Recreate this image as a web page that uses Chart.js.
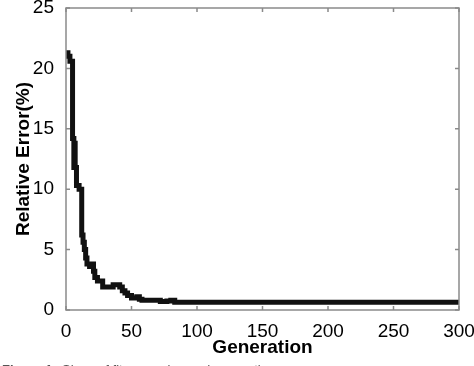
<!DOCTYPE html>
<html lang="en">
<head>
    <meta charset="UTF-8">
    <title>Relative Error vs Generation</title>
    <script src="https://cdn.jsdelivr.net/npm/chart.js"></script>
    <style>
        html, body { margin: 0; padding: 0; background: #fff; }
        .wrapper { width: 474px; height: 366px; position: relative; }
    </style>
</head>
<body>
    <div class="wrapper">
        <canvas id="errorChart"></canvas>
    </div>

    <script>
        // step points (value holds until the next generation)
        const generations = [0, 1.5, 3, 5, 6, 6.5, 7, 8, 10, 12, 13, 14, 15, 16, 18, 20, 21, 22, 24, 28, 36, 41, 43, 45, 47, 50, 54, 56, 58, 72, 77, 80, 83, 300];
        const relErrors   = [21.3, 21.0, 20.6, 14.2, 11.8, 13.8, 11.8, 10.3, 10.0, 6.2, 5.6, 5.0, 4.3, 3.8, 3.6, 3.8, 3.2, 2.7, 2.4, 1.9, 2.1, 1.9, 1.6, 1.4, 1.2, 1.0, 1.1, 0.9, 0.8, 0.7, 0.75, 0.8, 0.65, 0.65];
        const xTicks = [0, 50, 100, 150, 200, 250, 300];
        const yTicks = [0, 5, 10, 15, 20, 25];

        const FONT = '"Liberation Sans", Arial, sans-serif';
        const frameColor = '#8a8a8a';

        // matlab-ish box with inward ticks on all four sides
        const framePlugin = {
            id: 'frame',
            afterDatasetsDraw(chart) {
                const { ctx, chartArea: a, scales } = chart;
                ctx.save();
                ctx.strokeStyle = frameColor;
                ctx.lineWidth = 1.5;
                ctx.strokeRect(a.left, a.top, a.right - a.left, a.bottom - a.top);
                ctx.beginPath();
                xTicks.forEach(v => {
                    const px = scales.x.getPixelForValue(v);
                    ctx.moveTo(px, a.bottom); ctx.lineTo(px, a.bottom - 4);
                    ctx.moveTo(px, a.top); ctx.lineTo(px, a.top + 4);
                });
                yTicks.forEach(v => {
                    const py = scales.y.getPixelForValue(v);
                    ctx.moveTo(a.left, py); ctx.lineTo(a.left + 4, py);
                    ctx.moveTo(a.right, py); ctx.lineTo(a.right - 4, py);
                });
                ctx.stroke();
                ctx.restore();
            },
            afterDraw(chart) {
                // caption of the paper figure, mostly cut off at the bottom
                const { ctx } = chart;
                ctx.save();
                ctx.fillStyle = '#555';
                ctx.textBaseline = 'top';
                ctx.font = 'bold 13px ' + FONT;
                ctx.fillText('Figure 1', 2, 364);
                ctx.font = '13px ' + FONT;
                ctx.fillText('Show of fitness value and generation', 62, 364);
                ctx.restore();
            }
        };

        const ctx = document.getElementById('errorChart').getContext('2d');
        new Chart(ctx, {
            type: 'line',
            data: {
                datasets: [{
                    data: generations.map((g, i) => ({ x: g, y: relErrors[i] })),
                    borderColor: '#111',
                    borderWidth: 5,
                    stepped: 'before',
                    pointRadius: 0,
                    fill: false
                }]
            },
            options: {
                responsive: true,
                maintainAspectRatio: false,
                animation: false,
                layout: { padding: { top: 8, right: 15, left: 12, bottom: 7 } },
                plugins: {
                    legend: { display: false },
                    tooltip: { enabled: false }
                },
                scales: {
                    x: {
                        type: 'linear',
                        min: 0,
                        max: 300,
                        afterBuildTicks: s => { s.ticks = xTicks.map(v => ({ value: v })); },
                        afterFit: s => { s.height = 49; s.paddingLeft = 0; s.paddingRight = 0; },
                        grid: { display: false },
                        border: { display: false },
                        ticks: { color: '#000', padding: 2, maxRotation: 0, font: { family: FONT, size: 19 } },
                        title: {
                            display: true,
                            text: 'Generation',
                            color: '#000',
                            padding: { top: 2, bottom: 0 },
                            font: { family: FONT, size: 19, weight: 'bold' }
                        }
                    },
                    y: {
                        min: 0,
                        max: 25,
                        afterBuildTicks: s => { s.ticks = yTicks.map(v => ({ value: v })); },
                        afterFit: s => { s.width = 54; s.paddingTop = 0; s.paddingBottom = 0; },
                        grid: { display: false },
                        border: { display: false },
                        ticks: { color: '#000', padding: 4, font: { family: FONT, size: 19 } },
                        title: {
                            display: true,
                            text: 'Relative Error(%)',
                            color: '#000',
                            padding: { top: 0, bottom: 2 },
                            font: { family: FONT, size: 19, weight: 'bold' }
                        }
                    }
                }
            },
            plugins: [framePlugin]
        });
    </script>
</body>
</html>
